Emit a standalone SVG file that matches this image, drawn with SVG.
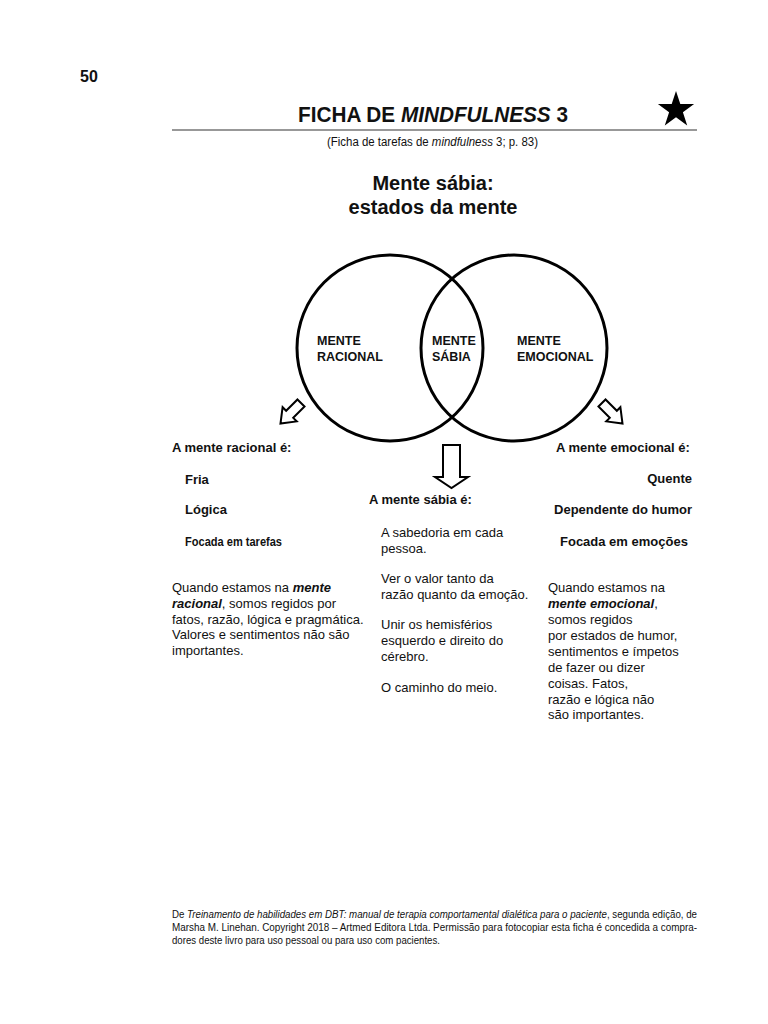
<svg xmlns="http://www.w3.org/2000/svg" width="768" height="1024" viewBox="0 0 768 1024">
<style>
text{font-family:"Liberation Sans",Arial,sans-serif;fill:#111}
.b{font-weight:bold}
.i{font-style:italic}
.body{font-size:13px}
.lbl{font-size:12.5px;font-weight:bold}
.circ{fill:none;stroke:#000;stroke-width:3}
.arr{fill:#fff;stroke:#000;stroke-width:2;stroke-linejoin:miter}
.foot{font-size:10px}
</style>
<rect width="768" height="1024" fill="#fff"/>
<text x="80" y="82" class="b" font-size="16">50</text>
<text id="title" x="298" y="122" class="b" font-size="22" textLength="270" lengthAdjust="spacingAndGlyphs">FICHA DE <tspan class="i">MINDFULNESS</tspan> 3</text>
<polygon points="676,91 680.3,104.1 694.1,104.1 682.9,112.3 687.2,125.4 676,117.3 664.8,125.4 669.1,112.3 657.9,104.1 671.7,104.1" fill="#000"/>
<line x1="172" y1="130" x2="697" y2="130" stroke="#333" stroke-width="1.2"/>
<text id="subtitle" x="327" y="146" font-size="12" textLength="211" lengthAdjust="spacingAndGlyphs">(Ficha de tarefas de <tspan class="i">mindfulness</tspan> 3; p. 83)</text>
<text x="433" y="190" class="b" font-size="20" text-anchor="middle">Mente sábia:</text>
<text x="433" y="214" class="b" font-size="20" text-anchor="middle">estados da mente</text>

<g id="circle-racional"><circle cx="390" cy="348" r="93" class="circ"/>
<text x="317" y="345" class="lbl">MENTE</text><text x="317" y="361" class="lbl">RACIONAL</text></g>
<g id="circle-emocional"><circle cx="514" cy="348" r="93" class="circ"/>
<text x="517" y="345" class="lbl">MENTE</text><text x="517" y="361" class="lbl">EMOCIONAL</text></g>
<g id="sabia"><text x="432" y="345" class="lbl">MENTE</text><text x="432" y="361" class="lbl">SÁBIA</text></g>

<g id="connectors">
<path class="arr" transform="translate(301,403) rotate(45)" d="M-5,0 L5,0 L5,16 L10,16 L0,29 L-10,16 L-5,16 Z"/>
<path class="arr" transform="translate(602,403) rotate(-45)" d="M-5,0 L5,0 L5,16 L10,16 L0,29 L-10,16 L-5,16 Z"/>
<path class="arr" d="M443,445 L460,445 L460,477 L468,477 L451.5,488 L435,477 L443,477 Z"/>
</g>

<g id="racional">
<text x="172" y="452" class="b body">A mente racional é:</text>
<text x="185" y="484" class="b body">Fria</text>
<text x="185" y="514" class="b body">Lógica</text>
<text x="185" y="546" class="b body" textLength="97" lengthAdjust="spacingAndGlyphs">Focada em tarefas</text>
<text class="body" x="172" y="592">Quando estamos na <tspan class="b i">mente</tspan></text>
<text class="body" x="172" y="608"><tspan class="b i">racional</tspan>, somos regidos por</text>
<text class="body" x="172" y="624">fatos, razão, lógica e pragmática.</text>
<text class="body" x="172" y="639">Valores e sentimentos não são</text>
<text class="body" x="172" y="655">importantes.</text>
</g>

<g id="sabia-text">
<text x="369" y="504" class="b body">A mente sábia é:</text>
<text class="body" x="381" y="537">A sabedoria em cada</text>
<text class="body" x="381" y="553">pessoa.</text>
<text class="body" x="381" y="583">Ver o valor tanto da</text>
<text class="body" x="381" y="599">razão quanto da emoção.</text>
<text class="body" x="381" y="629">Unir os hemisférios</text>
<text class="body" x="381" y="645">esquerdo e direito do</text>
<text class="body" x="381" y="661">cérebro.</text>
<text class="body" x="381" y="692">O caminho do meio.</text>
</g>

<g id="emocional">
<text x="556" y="452" class="b body">A mente emocional é:</text>
<text x="692" y="483" class="b body" text-anchor="end">Quente</text>
<text x="692" y="514" class="b body" text-anchor="end">Dependente do humor</text>
<text x="560" y="546" class="b body">Focada em emoções</text>
<text class="body" x="548" y="592">Quando estamos na</text>
<text class="body" x="548" y="608"><tspan class="b i">mente emocional</tspan>,</text>
<text class="body" x="548" y="624">somos regidos</text>
<text class="body" x="548" y="640">por estados de humor,</text>
<text class="body" x="548" y="656">sentimentos e ímpetos</text>
<text class="body" x="548" y="672">de fazer ou dizer</text>
<text class="body" x="548" y="688">coisas. Fatos,</text>
<text class="body" x="548" y="704">razão e lógica não</text>
<text class="body" x="548" y="719">são importantes.</text>
</g>

<g id="footer">
<text class="foot" x="172" y="918" textLength="525" lengthAdjust="spacingAndGlyphs">De <tspan class="i">Treinamento de habilidades em DBT: manual de terapia comportamental dialética para o paciente</tspan>, segunda edição, de</text>
<text class="foot" x="172" y="931" textLength="525" lengthAdjust="spacingAndGlyphs">Marsha M. Linehan. Copyright 2018 – Artmed Editora Ltda. Permissão para fotocopiar esta ficha é concedida a compra-</text>
<text class="foot" x="172" y="944" textLength="268" lengthAdjust="spacingAndGlyphs">dores deste livro para uso pessoal ou para uso com pacientes.</text>
</g>
</svg>
